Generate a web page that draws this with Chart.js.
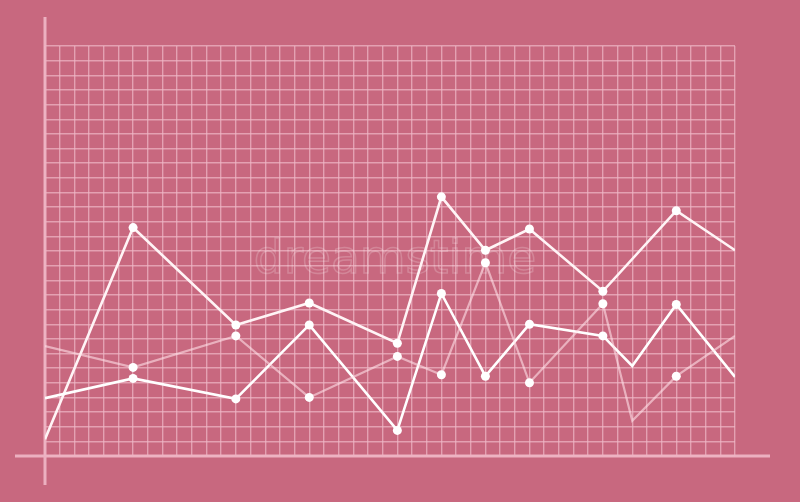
<!DOCTYPE html>
<html>
<head>
<meta charset="utf-8">
<script src="https://cdn.jsdelivr.net/npm/chart.js@4"></script>
<style>
html,body{margin:0;padding:0;background:#C8687F;}
#wrap{width:800px;height:502px;position:relative;}
</style>
</head>
<body>
<div id="wrap"><canvas id="c" width="800" height="502"></canvas></div>
<script>
// grid positions along x (grid units, 0..47) and y (0..28)
const xPositions = [0, 6, 13, 18, 24, 27, 30, 33, 38, 40, 43, 47];
const seriesTop  = [1.15, 15.6, 8.95, 10.45, 7.7, 17.7, 14.05, 15.5, 11.25, null, 16.75, 14.05];
const seriesMid  = [3.95, 5.3, 3.9, 8.95, 1.75, 11.1, 5.45, 9.0, 8.2, 6.15, 10.35, 5.4];
const seriesPale = [7.5, 6.05, 8.2, 4.0, 6.8, 5.55, 13.2, 5.0, 10.4, 2.4, 5.45, 8.2];
const dotTop  = [0,1,1,1,1,1,1,1,1,0,1,0];
const dotMid  = [0,1,1,1,1,1,1,1,1,0,1,0];
const dotPale = [0,1,1,1,1,1,1,1,1,0,1,0];
const xMax = 47, yMax = 28;
const watermark = "dreamstime";

function pts(vals){
  const out = [];
  vals.forEach((v,i)=>{ if(v!==null) out.push({x:xPositions[i], y:v}); });
  return out;
}
function radii(vals, dots){
  const out = [];
  vals.forEach((v,i)=>{ if(v!==null) out.push(dots[i]?4.5:0); });
  return out;
}

const axisPlugin = {
  id:'axisLines',
  beforeDatasetsDraw(chart){
    const {ctx, scales:{x,y}} = chart;
    const x0 = x.getPixelForValue(0), y0 = y.getPixelForValue(0);
    const yTop = y.getPixelForValue(yMax), xRight = x.getPixelForValue(xMax);
    ctx.save();
    ctx.strokeStyle = 'rgba(238,180,196,0.95)';
    ctx.lineWidth = 3;
    ctx.beginPath();
    ctx.moveTo(x0, yTop - 29); ctx.lineTo(x0, y0 + 29);
    ctx.moveTo(x0 - 30, y0); ctx.lineTo(xRight + 35, y0);
    ctx.stroke();
    // faint watermark
    ctx.font = '47px "DejaVu Sans"';
    ctx.textAlign = 'center';
    ctx.textBaseline = 'middle';
    ctx.strokeStyle = 'rgba(255,255,255,0.2)';
    ctx.lineWidth = 1.5;
    ctx.strokeText(watermark, (x0 + xRight)/2 + 5, y.getPixelForValue(13.3));
    ctx.restore();
  }
};

new Chart(document.getElementById('c'), {
  type:'scatter',
  data:{
    datasets:[
      {data:pts(seriesPale), showLine:true, borderColor:'rgba(255,225,232,0.6)', borderWidth:2.2,
       pointRadius:radii(seriesPale,dotPale), pointBackgroundColor:'#fff', pointBorderWidth:0, tension:0},
      {data:pts(seriesMid), showLine:true, borderColor:'#ffffff', borderWidth:2.6,
       pointRadius:radii(seriesMid,dotMid), pointBackgroundColor:'#fff', pointBorderWidth:0, tension:0},
      {data:pts(seriesTop), showLine:true, borderColor:'#fff4f6', borderWidth:2.6,
       pointRadius:radii(seriesTop,dotTop), pointBackgroundColor:'#fff', pointBorderWidth:0, tension:0}
    ]
  },
  options:{
    responsive:false, animation:false,
    layout:{padding:{left:45,right:65,top:46,bottom:46}},
    plugins:{legend:{display:false}, tooltip:{enabled:false}},
    scales:{
      x:{type:'linear', min:0, max:xMax, ticks:{display:false, stepSize:1},
         grid:{color:'rgba(240,185,200,0.7)', lineWidth:1.4, drawTicks:false}, border:{display:false}},
      y:{type:'linear', min:0, max:yMax, ticks:{display:false, stepSize:1},
         grid:{color:'rgba(240,185,200,0.7)', lineWidth:1.4, drawTicks:false}, border:{display:false}}
    }
  },
  plugins:[axisPlugin]
});
</script>
</body>
</html>
